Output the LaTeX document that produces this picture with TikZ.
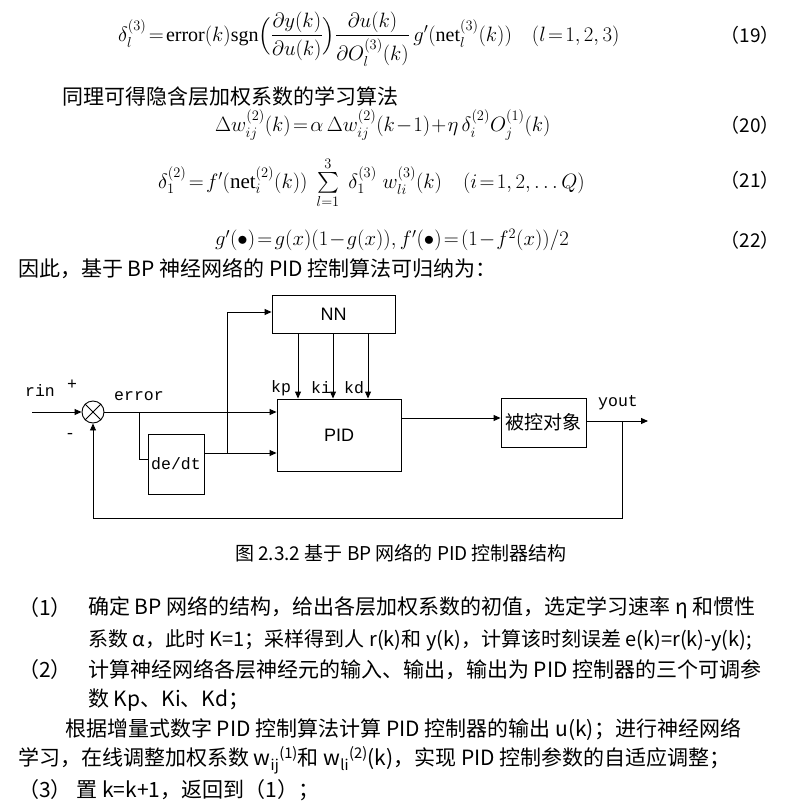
\documentclass[tikz,border=0pt]{standalone}
\usepackage{amsmath}
\usepackage{fontspec}
\setmainfont{Liberation Serif}
\newfontfamily\cjk{Noto Sans CJK SC}
\newfontfamily\mono{Liberation Mono}
\newfontfamily\sans{Liberation Sans}
\usetikzlibrary{arrows.meta}
\begin{document}
\begin{tikzpicture}[x=1pt,y=-1pt,
  txt/.style={anchor=west,inner sep=0pt,font=\cjk\fontsize{21}{22}\selectfont},
  eq/.style={anchor=west,inner sep=0pt,font=\fontsize{21}{22}\selectfont},
  num/.style={anchor=east,inner sep=0pt,font=\cjk\fontsize{19}{20}\selectfont},
  blk/.style={draw,line width=0.9pt,inner sep=0pt},
  lab/.style={inner sep=0pt,font=\mono\fontsize{16.5}{17}\selectfont},
  sig/.style={line width=0.9pt,-{Triangle[length=7pt,width=6pt]}},
  ln/.style={line width=0.9pt}]
\useasboundingbox (0,0) rectangle (786,802);
% equations
\node[eq,font=\fontsize{20}{21}\selectfont] (e19) at (118,39) {$\delta_l^{(3)}\!=\!\mathrm{error}(k)\mathrm{sgn}\Big(\dfrac{\partial y(k)}{\partial u(k)}\Big)\dfrac{\partial u(k)}{\partial O_l^{(3)}(k)}\,g'(\mathrm{net}_l^{(3)}(k))\quad(l\!=\!1,2,3)$};
\node[num] (n19) at (780,35) {（19）};
\node[txt] (t1) at (62,97) {同理可得隐含层加权系数的学习算法};
\node[eq] (e20) at (215,125) {$\Delta w_{ij}^{(2)}(k)\!=\!\alpha\,\Delta w_{ij}^{(2)}(k\!-\!1)\!+\!\eta\,\delta_i^{(2)}O_j^{(1)}(k)$};
\node[num] (n20) at (780,125) {（20）};
\node[eq] (e21) at (158,183) {$\delta_1^{(2)}\!=\!f'(\mathrm{net}_i^{(2)}(k))\;\sum\limits_{l=1}^{3}\;\delta_1^{(3)}\;w_{li}^{(3)}(k)\quad(i\!=\!1,2,\ldots Q)$};
\node[num] (n21) at (780,180) {（21）};
\node[eq] (e22) at (215,240) {$g'(\bullet)\!=\!g(x)(1\!-\!g(x)),f'(\bullet)\!=\!(1\!-\!f^2(x))/2$};
\node[num] (n22) at (780,240) {（22）};
\node[txt] (t2) at (18,269) {因此，基于 BP 神经网络的 PID 控制算法可归纳为：};
% diagram
\node[blk,minimum width=123pt,minimum height=38pt,font=\sans\fontsize{18}{18}\selectfont] (nn) at (333.5,314) {NN};
\node[blk,minimum width=124pt,minimum height=72pt,font=\sans\fontsize{18}{18}\selectfont] (pid) at (339,435) {PID};
\node[blk,minimum width=85pt,minimum height=49pt,font=\cjk\fontsize{19}{19}\selectfont] (plant) at (543.5,422.5) {被控对象};
\node[blk,minimum width=56pt,minimum height=60pt,font=\mono\fontsize{16.5}{17}\selectfont] (dedt) at (176,464) {de/dt};
\node[draw,circle,line width=0.9pt,minimum size=22pt,inner sep=0pt] (sum) at (93,412) {};
\draw[line width=0.9pt] (sum.north west)--(sum.south east) (sum.north east)--(sum.south west);
\coordinate (rin) at (32,412);
\draw[sig] (rin) -- (sum.west);
\node[lab] (lrin) at (40,391) {rin};
\node[lab] (lp) at (72,385) {+};
\node[lab] (lm) at (70,436) {-};
\node[lab] (lerr) at (139,396) {error};
\draw[sig] (sum.east) -- (pid.west |- 0,412);
\coordinate (b1) at (139,412);
\draw[ln] (b1) |- (dedt.west |- 0,459);
\coordinate (b2) at (227,453);
\draw[sig] (dedt.east |- b2) -- (pid.west |- b2);
\draw[sig] (b2) |- (nn.west |- 0,312);
\foreach \x/\t/\lx in {298/kp/281,333/ki/321,368/kd/354}{
  \draw[sig] (nn.south -| \x,0) -- (pid.north -| \x,0);
  \node[lab] at (\lx,388) {\t};
}
\draw[sig] (pid.east |- 0,418) -- (plant.west |- 0,418);
\coordinate (out) at (648,421);
\draw[sig] (plant.east |- out) -- (out);
\node[lab] (ly) at (618,403) {yout};
\coordinate (fb) at (622,421);
\draw[sig] (fb) -- (622,518) -| (sum.south);
\node[inner sep=0pt,font=\cjk\fontsize{19}{20}\selectfont] (cap) at (401,553) {图 2.3.2 基于 BP 网络的 PID 控制器结构};
% steps
\node[txt] (s1) at (18,608) {（1）};
\node[txt] (s1a) at (88,608) {确定 BP 网络的结构，给出各层加权系数的初值，选定学习速率 η 和惯性};
\node[txt,font=\cjk\fontsize{20}{21}\selectfont] (s1b) at (88,640) {系数 α，此时 K=1；采样得到人 r(k)和 y(k)，计算该时刻误差 e(k)=r(k)-y(k);};
\node[txt] (s2) at (18,670) {（2）};
\node[txt] (s2a) at (88,670) {计算神经网络各层神经元的输入、输出，输出为 PID 控制器的三个可调参};
\node[txt] (s2b) at (88,700) {数 Kp、Ki、Kd；};
\node[txt] (s3a) at (65,730) {根据增量式数字 PID 控制算法计算 PID 控制器的输出 u(k)；进行神经网络};
\node[txt] (s3b) at (18,760) {学习，在线调整加权系数 w\textsubscript{ij}\textsuperscript{(1)}和 w\textsubscript{li}\textsuperscript{(2)}(k)，实现 PID 控制参数的自适应调整；};
\node[txt] (s4) at (18,790) {（3） 置 k=k+1，返回到（1）；};
\end{tikzpicture}
\end{document}
